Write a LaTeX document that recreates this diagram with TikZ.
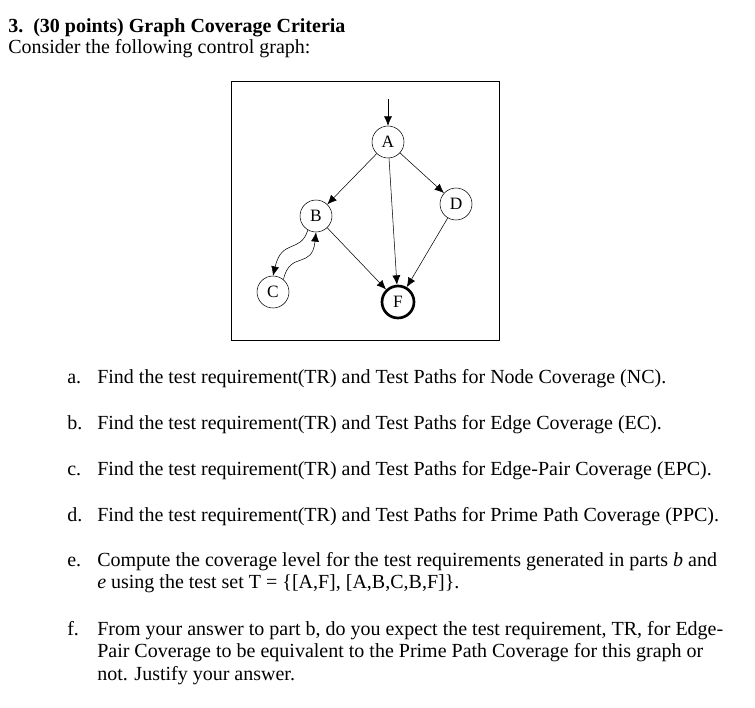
\documentclass[tikz,border=0pt]{standalone}
\usepackage{fontspec}
\setmainfont{Liberation Serif}
\usetikzlibrary{arrows.meta}

\begin{document}
\begin{tikzpicture}[
	x = 0.75pt, y = -0.75pt,
	every node/.style = {font=\fontsize{15}{17}\selectfont},
	vert/.style = {draw, circle, minimum size = 24pt, inner sep = 0pt,
		font=\fontsize{13}{15}\selectfont},
	edge/.style = {-{Latex[length=7pt,width=6pt]}},
	line/.style = {anchor = base west, inner sep = 0pt}
	]
	\useasboundingbox (0,0) rectangle (755,707);
	% heading
	\node[line] (h1) at (8,32) {\textbf{3.\ \ (30 points) Graph Coverage Criteria}};
	\node[line] (h2) at (8,53) {Consider the following control graph:};
	% the graph
	\draw (231,81) rectangle (499,340);
	\node[vert] (A) at (388,142) {A};
	\node[vert] (B) at (316,216) {B};
	\node[vert] (D) at (456,204) {D};
	\node[vert] (C) at (273,292) {C};
	\node[vert, line width = 2pt] (F) at (398,302) {F};
	\coordinate (start) at (388,99);
	\draw[edge] (start) -- (A);
	\draw[edge] (A) -- (B);
	\draw[edge] (A) -- (D);
	\draw[edge] (A) -- (F);
	\draw[edge] (B) -- (F);
	\draw[edge] (D) -- (F);
	\draw[edge] (B.240) .. controls (300,254) and (282,238) .. (C.north);
	\draw[edge] (C.50) .. controls (290,250) and (312,270) .. (B.south);
	% questions
	\foreach \y/\l/\t in {
		383/a./Find the test requirement(TR) and Test Paths for Node Coverage (NC).,
		429/b./Find the test requirement(TR) and Test Paths for Edge Coverage (EC).,
		475/c./Find the test requirement(TR) and Test Paths for Edge-Pair Coverage (EPC).,
		521/d./Find the test requirement(TR) and Test Paths for Prime Path Coverage (PPC).,
		566/e./Compute the coverage level for the test requirements generated in parts \textit{b} and,
		635/f./From your answer to part b{,} do you expect the test requirement{,} TR{,} for Edge-}
		{\node[line] at (67,\y) {\l};
		 \node[line] at (97,\y) {\t};}
	\node[line] (e2) at (97,588) {\textit{e} using the test set T = \{[A,F], [A,B,C,B,F]\}.};
	\node[line] (f2) at (97,657) {Pair Coverage to be equivalent to the Prime Path Coverage for this graph or};
	\node[line] (f3) at (97,680) {not. Justify your answer.};
\end{tikzpicture}
\end{document}
